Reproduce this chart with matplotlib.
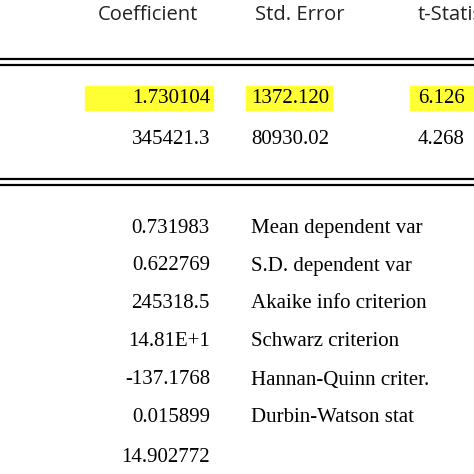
import matplotlib
matplotlib.use("Agg")
import matplotlib.pyplot as plt
from matplotlib.patches import Rectangle

headers = ["Coefficient", "Std. Error", "t-Statistic"]
coef_rows = [["1.730104", "1372.120", "6.126"], ["345421.3", "80930.02", "4.268"]]
highlight_row = 0
stat_values = ["0.731983", "0.622769", "245318.5", "14.81E+1", "-137.1768", "0.015899", "14.902772"]
stat_labels = ["Mean dependent var", "S.D. dependent var", "Akaike info criterion",
               "Schwarz criterion", "Hannan-Quinn criter.", "Durbin-Watson stat", ""]

fig = plt.figure(figsize=(4.74, 4.74), dpi=100)
ax = fig.add_axes([0, 0, 1, 1])
ax.set_xlim(0, 474); ax.set_ylim(474, 0); ax.axis("off")

serif = "Liberation Serif"
sans = "Open Sans"
fs = 15

hx = [148, 300, 418]
for i, h in enumerate(headers):
    ax.text(hx[i], 15, h, ha="center" if i < 2 else "left", va="center", fontsize=14.5, family=sans, color="#222")

for y in (59, 65, 179, 185):
    ax.plot([0, 474], [y, y], color="black", lw=1.6)

row_y = [98, 140]
for r, row in enumerate(coef_rows):
    y = row_y[r]
    if r == highlight_row:
        ax.add_patch(Rectangle((85, y - 12), 128, 24, color="#ffff33", zorder=0))
        ax.add_patch(Rectangle((246, y - 12), 86, 24, color="#ffff33", zorder=0))
        ax.add_patch(Rectangle((410, y - 12), 64, 24, color="#ffff33", zorder=0))
    ax.text(210, y, row[0], ha="right", va="center", fontsize=fs, family=serif)
    ax.text(251, y, row[1], ha="left", va="center", fontsize=fs, family=serif)
    ax.text(418, y, row[2], ha="left", va="center", fontsize=fs, family=serif)

stat_y = [228, 266, 304, 342, 380, 418, 457]
for i, (v, l) in enumerate(zip(stat_values, stat_labels)):
    ax.text(210, stat_y[i], v, ha="right", va="center", fontsize=fs, family=serif)
    ax.text(251, stat_y[i], l, ha="left", va="center", fontsize=fs, family=serif)

fig.savefig("out.png", dpi=100)
